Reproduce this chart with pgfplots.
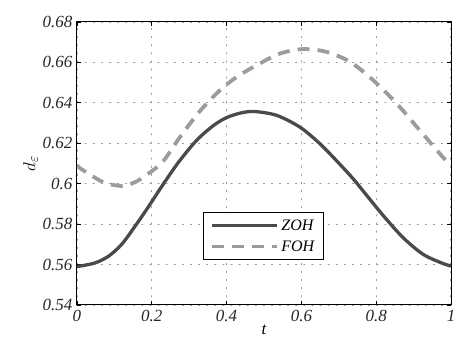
\documentclass[border=0pt]{standalone}
\usepackage{fontspec}
\setmainfont{Liberation Serif}
\usepackage{pgfplots}
\pgfplotsset{compat=1.18}
\definecolor{zohc}{HTML}{4A4A4A}
\definecolor{fohc}{HTML}{9C9C9C}
\begin{document}
\begin{tikzpicture}
\begin{axis}[
  name=ax,
  scale only axis,
  width=374pt, height=283pt,
  xmin=0, xmax=1, ymin=0.54, ymax=0.68,
  xtick={0,0.2,0.4,0.6,0.8,1},
  ytick={0.54,0.56,0.58,0.6,0.62,0.64,0.66,0.68},
  /pgf/number format/assume math mode=true,
  tick label style={font=\itshape\fontsize{17}{17}\selectfont, text=black!85},
  xticklabel style={yshift=-2pt},
  yticklabel style={xshift=-1pt},
  grid=major,
  major grid style={gray!80, line width=1.1pt, dash pattern=on 1.1pt off 7pt, line cap=round},
  tick align=inside,
  major tick length=4pt,
  tick style={black, line width=0.9pt},
  axis line style={black, line width=1pt},
  xlabel={\itshape t},
  xlabel style={font=\fontsize{17}{17}\selectfont, yshift=4pt},
  ylabel={$d_\varepsilon$},
  ylabel style={font=\fontsize{19}{19}\selectfont, yshift=-2pt},
  legend style={at={(0.337,0.329)}, anchor=north west, draw=black, line width=1.1pt,
    font=\itshape\fontsize{16}{16}\selectfont, inner xsep=7pt, inner ysep=5pt,
    row sep=5pt},
  legend cell align=left,
  legend image code/.code={\draw[#1] (0pt,0pt) -- (65pt,0pt);},
]
\addplot[color=zohc, line width=3.3pt, smooth] coordinates {
(0,0.559) (0.048,0.5608) (0.084,0.5641) (0.119,0.5699) (0.155,0.5789) (0.191,0.5886)
(0.226,0.5985) (0.271,0.6105) (0.32,0.6215) (0.365,0.6288) (0.40,0.6327) (0.44,0.6351)
(0.476,0.6357) (0.534,0.6338) (0.596,0.628) (0.65,0.6197) (0.703,0.6096) (0.738,0.6025)
(0.766,0.5962) (0.819,0.5842) (0.872,0.5733) (0.926,0.565) (0.979,0.5605) (1,0.5593)
};
\addlegendentry{ZOH}
\addplot[color=fohc, line width=3.8pt, smooth, dash pattern=on 12pt off 8pt] coordinates {
(0,0.6095) (0.008,0.6077) (0.066,0.6011) (0.1,0.5993) (0.128,0.599) (0.16,0.6012) (0.191,0.605)
(0.23,0.611) (0.275,0.623) (0.329,0.636) (0.382,0.6462) (0.427,0.6528) (0.48,0.6586)
(0.543,0.6644) (0.605,0.6666) (0.668,0.6652) (0.73,0.6603) (0.792,0.6512) (0.855,0.6396)
(0.917,0.6263) (0.979,0.613) (1,0.609)
};
\addlegendentry{FOH}
\end{axis}
\path ([shift={(-77pt,-51pt)}]ax.south west) rectangle ([shift={(23pt,22pt)}]ax.north east);
\end{tikzpicture}
\end{document}
